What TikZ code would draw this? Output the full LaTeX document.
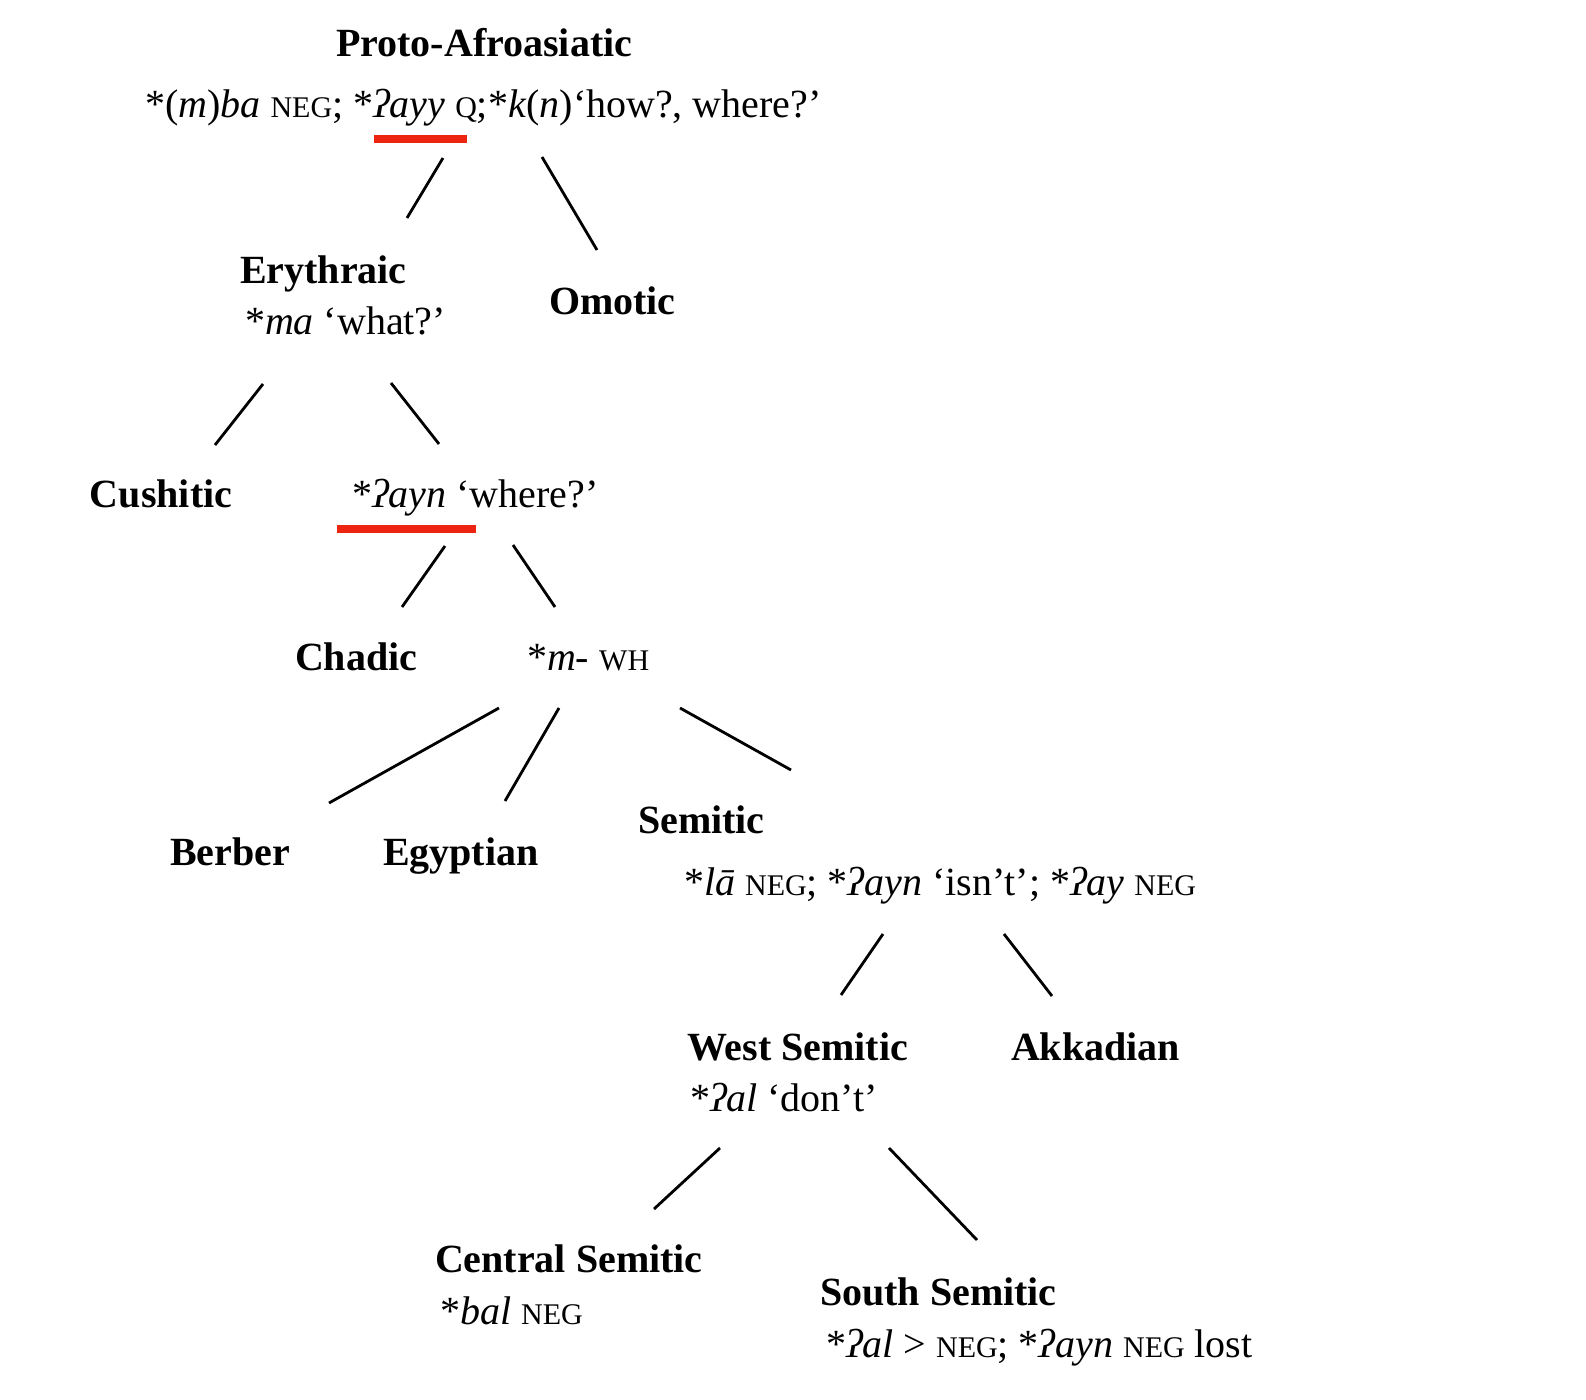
\documentclass[tikz,border=0pt]{standalone}
\usepackage{fontspec}
\setmainfont{Liberation Serif}
\definecolor{ulred}{RGB}{236,36,16}
\newcommand{\scp}[1]{{\fontsize{15}{15}\selectfont #1}}
\tikzset{
  lbl/.style={anchor=base west, inner sep=0pt, outer sep=0pt, font=\fontsize{20}{24}\selectfont\bfseries},
  form/.style={anchor=base west, inner sep=0pt, outer sep=0pt, font=\fontsize{20}{24}\selectfont},
  branch/.style={line width=1.4pt, black},
  redline/.style={line width=3.6pt, ulred}
}
\begin{document}
\begin{tikzpicture}[x=0.5pt,y=-0.5pt]
\useasboundingbox (0,0) rectangle (1586,1400);
% nodes
\node[lbl]  (pa)   at (336,57)   {Proto-Afroasiatic};
\node[form] (paf)  at (145,118)  {*(\textit{m})\textit{ba} \scp{NEG}; *\textit{ʔayy} \scp{Q};*\textit{k}(\textit{n})‘how?, where?’};
\node[lbl]  (ery)  at (240,284)  {Erythraic};
\node[form] (eryf) at (245,335)  {*\textit{ma} ‘what?’};
\node[lbl]  (omo)  at (549,315)  {Omotic};
\node[lbl]  (cus)  at (90,508)   {Cushitic};
\node[form] (ayn)  at (352,508)  {*\textit{ʔayn} ‘where?’};
\node[lbl]  (cha)  at (295,671)  {Chadic};
\node[form] (mwh)  at (527,671)  {*\textit{m-} \scp{WH}};
\node[lbl]  (ber)  at (170,866)  {Berber};
\node[lbl]  (egy)  at (383,866)  {Egyptian};
\node[lbl]  (sem)  at (638,834)  {Semitic};
\node[form] (semf) at (684,896)  {*\textit{lā} \scp{NEG}; *\textit{ʔayn} ‘isn’t’; *\textit{ʔay} \scp{NEG}};
\node[lbl]  (ws)   at (687,1060) {West Semitic};
\node[form] (wsf)  at (690,1111) {*\textit{ʔal} ‘don’t’};
\node[lbl]  (akk)  at (1011,1060) {Akkadian};
\node[lbl]  (cs)   at (435,1272) {Central Semitic};
\node[form] (csf)  at (440,1324) {*\textit{bal} \scp{NEG}};
\node[lbl]  (ss)   at (820,1305) {South Semitic};
\node[form] (ssf)  at (826,1357) {*\textit{ʔal} > \scp{NEG}; *\textit{ʔayn} \scp{NEG} lost};
% connector end points
\coordinate (a1) at (443,158);  \coordinate (a2) at (407,218);
\coordinate (b1) at (542,157);  \coordinate (b2) at (597,250);
\coordinate (c1) at (263,384);  \coordinate (c2) at (215,445);
\coordinate (d1) at (391,383);  \coordinate (d2) at (439,444);
\coordinate (e1) at (445,546);  \coordinate (e2) at (402,607);
\coordinate (f1) at (513,545);  \coordinate (f2) at (555,607);
\coordinate (g1) at (499,708);  \coordinate (g2) at (329,803);
\coordinate (h1) at (559,708);  \coordinate (h2) at (505,801);
\coordinate (i1) at (680,708);  \coordinate (i2) at (791,770);
\coordinate (j1) at (883,934);  \coordinate (j2) at (841,995);
\coordinate (k1) at (1004,934); \coordinate (k2) at (1052,996);
\coordinate (l1) at (720,1148); \coordinate (l2) at (654,1209);
\coordinate (m1) at (889,1148); \coordinate (m2) at (977,1240);
\foreach \p in {a,b,c,d,e,f,g,h,i,j,k,l,m}{\draw[branch] (\p1) -- (\p2);}
% red underlines
\coordinate (r1a) at (374,139); \coordinate (r1b) at (467,139);
\coordinate (r2a) at (337,529); \coordinate (r2b) at (476,529);
\draw[redline] (r1a) -- (r1b);
\draw[redline] (r2a) -- (r2b);
\end{tikzpicture}
\end{document}
